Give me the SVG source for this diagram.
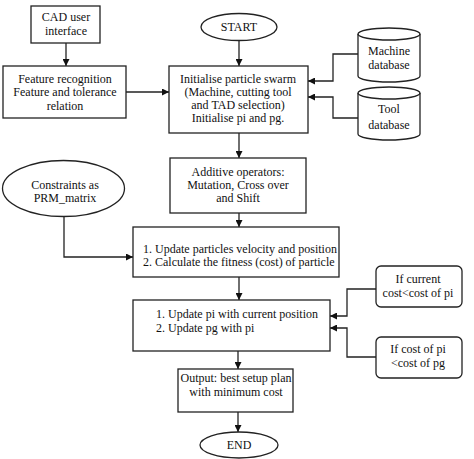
<svg xmlns="http://www.w3.org/2000/svg" width="474" height="459" viewBox="0 0 474 459">
<style>
.s{fill:#fff;stroke:#222;stroke-width:1.3}
.c{fill:none;stroke:#222;stroke-width:1.3}
text{font-family:"Liberation Serif","Times New Roman",serif;font-size:12px;fill:#111;text-anchor:middle}
.l{text-anchor:start}
</style>
<defs>
<marker id="a" viewBox="0 0 10 10" refX="10" refY="5" markerWidth="7" markerHeight="7" markerUnits="userSpaceOnUse" orient="auto"><path d="M0,0L10,5L0,10z" fill="#111"/></marker>
</defs>
<rect width="474" height="459" fill="#fff"/>
<g id="connectors">
<path class="c" d="M66,43V66" marker-end="url(#a)"/>
<path class="c" d="M126,92H169" marker-end="url(#a)"/>
<path class="c" d="M239,41V66" marker-end="url(#a)"/>
<path class="c" d="M358,54H333V81H308" marker-end="url(#a)"/>
<path class="c" d="M358,118H333V97H308" marker-end="url(#a)"/>
<path class="c" d="M239,133V158" marker-end="url(#a)"/>
<path class="c" d="M64,217V257H133" marker-end="url(#a)"/>
<path class="c" d="M239,213V227" marker-end="url(#a)"/>
<path class="c" d="M239,277V300" marker-end="url(#a)"/>
<path class="c" d="M376,289H347V316H330" marker-end="url(#a)"/>
<path class="c" d="M376,357H347V328H330" marker-end="url(#a)"/>
<path class="c" d="M238,351V369" marker-end="url(#a)"/>
<path class="c" d="M238,412V432" marker-end="url(#a)"/>
</g>
<g id="cad"><rect class="s" x="31" y="6" width="69" height="37"/><text x="66" y="21">CAD user</text><text x="66" y="35">interface</text></g>
<g id="feature"><rect class="s" x="3" y="66" width="123" height="52"/><text x="65" y="83">Feature recognition</text><text x="65" y="96">Feature and tolerance</text><text x="65" y="110">relation</text></g>
<g id="start"><ellipse class="s" cx="239" cy="27" rx="38" ry="13.5"/><text x="239" y="31">START</text></g>
<g id="init"><rect class="s" x="169" y="66" width="139" height="67"/><text x="238" y="83">Initialise particle swarm</text><text x="238" y="95.5">(Machine, cutting tool</text><text x="238" y="108.5">and TAD selection)</text><text x="238" y="121.5">Initialise pi and pg.</text></g>
<g id="machine"><path class="s" d="M358,34a31,6 0 0,1 62,0v42a31,6 0 0,1 -62,0z"/><path class="c" d="M358,34a31,6 0 0,0 62,0"/><text x="389" y="55">Machine</text><text x="389" y="69">database</text></g>
<g id="tool"><path class="s" d="M358,93a31,6 0 0,1 62,0v41a31,6 0 0,1 -62,0z"/><path class="c" d="M358,93a31,6 0 0,0 62,0"/><text x="389" y="113">Tool</text><text x="389" y="129">database</text></g>
<g id="additive"><rect class="s" x="170" y="158" width="136" height="55"/><text x="238" y="176">Additive operators:</text><text x="238" y="189">Mutation, Cross over</text><text x="238" y="202">and Shift</text></g>
<g id="constraints"><ellipse class="s" cx="63.5" cy="188.5" rx="61" ry="28"/><text x="65" y="189">Constraints as</text><text x="65" y="202">PRM_matrix</text></g>
<g id="update1"><rect class="s" x="133" y="227" width="206" height="50"/><text class="l" x="143" y="253">1. Update particles velocity and position</text><text class="l" x="143" y="266">2. Calculate the fitness (cost) of particle</text></g>
<g id="update2"><rect class="s" x="133" y="300" width="197" height="51"/><text class="l" x="156" y="318">1. Update pi with current position</text><text class="l" x="156" y="332">2. Update pg with pi</text></g>
<g id="cond1"><rect class="s" x="376" y="266" width="86" height="41" rx="5"/><text x="418" y="283">If current</text><text x="418" y="297">cost&lt;cost of pi</text></g>
<g id="cond2"><rect class="s" x="376" y="337" width="86" height="41" rx="5"/><text x="418" y="353">If cost of pi</text><text x="418" y="367">&lt;cost of pg</text></g>
<g id="output"><rect class="s" x="178" y="369" width="115" height="43"/><text x="236" y="382">Output: best setup plan</text><text x="236" y="396">with minimum cost</text></g>
<g id="end"><ellipse class="s" cx="239" cy="445" rx="39" ry="13"/><text x="239" y="449">END</text></g>
</svg>
